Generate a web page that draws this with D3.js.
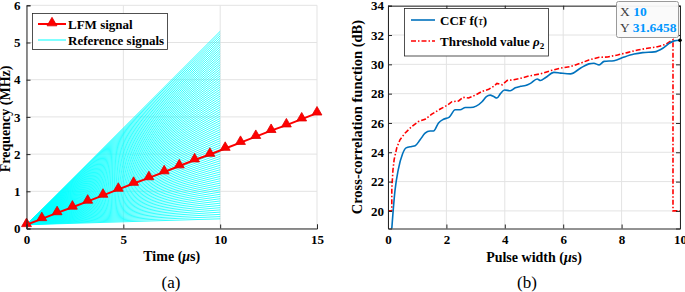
<!DOCTYPE html>
<html>
<head>
<meta charset="utf-8">
<script src="https://cdn.jsdelivr.net/npm/d3@7"></script>
<style>
  body { margin: 0; background: #fff; }
  svg { display: block; font-family: "Liberation Serif", "Times New Roman", serif; }
  .tick text { font-family: "Liberation Serif", "Times New Roman", serif; font-weight: bold; font-size: 13px; fill: #000; }
</style>
</head>
<body>
<svg id="chart" width="685" height="292"></svg>
<script>
// (a) LFM signal vs. reference signals
const lfmTime = [0, 0.79, 1.58, 2.37, 3.16, 3.95, 4.74, 5.53, 6.32, 7.11, 7.89, 8.68, 9.47, 10.26, 11.05, 11.84, 12.63, 13.42, 14.21, 15];
const lfmFreq = [0.10, 0.26, 0.42, 0.57, 0.73, 0.89, 1.05, 1.21, 1.36, 1.52, 1.68, 1.84, 1.99, 2.15, 2.31, 2.47, 2.63, 2.78, 2.94, 3.10];
const refStart = [0, 0.1];   // all reference chirps start here
const refEndTime = 10;
const refEndFreq = [
  0.26, 0.32, 0.38, 0.44, 0.50, 0.56, 0.62, 0.68, 0.74, 0.80,
  0.86, 0.92, 0.98, 1.04, 1.10, 1.16, 1.22, 1.28, 1.34, 1.40,
  1.46, 1.52, 1.58, 1.64, 1.70, 1.76, 1.82, 1.88, 1.94, 2.00,
  2.06, 2.12, 2.18, 2.24, 2.30, 2.36, 2.42, 2.48, 2.54, 2.60,
  2.66, 2.72, 2.78, 2.84, 2.90, 2.96, 3.02, 3.08, 3.14, 3.20,
  3.26, 3.32, 3.38, 3.44, 3.50, 3.56, 3.62, 3.68, 3.74, 3.80,
  3.86, 3.92, 3.98, 4.04, 4.10, 4.16, 4.22, 4.28, 4.34, 4.40,
  4.46, 4.52, 4.58, 4.64, 4.70, 4.76, 4.82, 4.88, 4.94, 5.00,
  5.06, 5.12, 5.18, 5.24, 5.30
];
const aTicksX = [0, 5, 10, 15];
const aTicksY = [0, 1, 2, 3, 4, 5, 6];

// (b) cross-correlation vs pulse width
const ccfX = [0.13, 0.24, 0.35, 0.5, 0.62, 0.81, 0.93, 1.1, 1.27, 1.44, 1.56, 1.73, 1.9, 2.1, 2.3, 2.47, 2.65, 2.82, 3.02, 3.22, 3.37, 3.5, 3.62, 3.73, 3.85, 3.99, 4.19, 4.36, 4.54, 4.71, 4.88, 5.11, 5.22, 5.4, 5.68, 5.91, 6.25, 6.6, 6.88, 7.05, 7.23, 7.4, 7.74, 8.09, 8.43, 8.72, 9.12, 9.41, 9.63, 9.8, 10];
const ccfY = [18.8, 21.4, 22.8, 23.9, 24.3, 24.4, 24.45, 24.85, 25.3, 25.45, 25.45, 26.0, 26.25, 26.4, 26.9, 26.9, 27.05, 27.05, 27.15, 27.45, 27.8, 27.9, 27.8, 27.7, 28.0, 28.25, 28.2, 28.4, 28.5, 28.55, 28.7, 29.0, 28.9, 29.1, 29.45, 29.4, 29.35, 29.75, 30.03, 30.07, 29.96, 30.2, 30.25, 30.5, 30.7, 30.8, 30.85, 31.1, 31.43, 31.6, 31.6458];
const thrX = [0, 0.13, 0.13, 0.17, 0.21, 0.3, 0.41, 0.58, 0.81, 1.04, 1.27, 1.5, 1.79, 2.02, 2.19, 2.42, 2.57, 2.76, 2.99, 3.22, 3.45, 3.62, 3.73, 3.91, 4.08, 4.31, 4.54, 4.82, 5.22, 5.57, 5.91, 6.25, 6.6, 6.88, 7.23, 7.52, 7.86, 8.2, 8.55, 8.89, 9.23, 9.52, 9.69, 9.76, 9.76, 10];
const thrY = [20, 20, 21.5, 22.8, 23.5, 24.3, 24.85, 25.3, 25.75, 26.1, 26.25, 26.6, 26.95, 27.2, 27.45, 27.5, 27.75, 27.7, 27.9, 28.15, 28.3, 28.5, 28.7, 28.6, 28.9, 28.95, 29.05, 29.2, 29.35, 29.57, 29.74, 29.85, 30.08, 30.3, 30.48, 30.5, 30.64, 30.8, 30.98, 31.1, 31.2, 31.37, 31.6, 31.68, 20, 20];
const bTicksX = [0, 2, 4, 6, 8, 10];
const bTicksY = [20, 22, 24, 26, 28, 30, 32, 34];
const tipX = 10, tipY = 31.6458;

const svg = d3.select("#chart");
const gridColor = "#e3e3e3";
const axisColor = "#262626";
const serif = "Liberation Serif, Times New Roman, serif";

function styleAxis(a) {
  a.attr("font-family", serif);
  a.select(".domain").attr("stroke", axisColor);
  a.selectAll(".tick line").attr("stroke", axisColor);
}

// ---------- panel (a) ----------
const xa = d3.scaleLinear().domain([0, 15]).range([26.5, 317]);
const ya = d3.scaleLinear().domain([0, 6]).range([228.5, 5.3]);
const ga = svg.append("g");

ga.selectAll(".gx").data(aTicksX).enter().append("line")
  .attr("x1", d => xa(d)).attr("x2", d => xa(d))
  .attr("y1", ya(0)).attr("y2", ya(6))
  .attr("stroke", gridColor);
ga.selectAll(".gy").data(aTicksY).enter().append("line")
  .attr("x1", xa(0)).attr("x2", xa(15))
  .attr("y1", d => ya(d)).attr("y2", d => ya(d))
  .attr("stroke", gridColor);

// reference chirps
ga.selectAll(".ref").data(refEndFreq).enter().append("line")
  .attr("x1", xa(refStart[0])).attr("y1", ya(refStart[1]))
  .attr("x2", xa(refEndTime)).attr("y2", d => ya(d))
  .attr("stroke", "#00ffff").attr("stroke-width", 0.8);

// LFM signal
const lfm = lfmTime.map((t, i) => [t, lfmFreq[i]]);
ga.append("path")
  .datum(lfm)
  .attr("d", d3.line().x(d => xa(d[0])).y(d => ya(d[1])))
  .attr("fill", "none").attr("stroke", "#ff0000").attr("stroke-width", 2);
const tri = d3.symbol().type(d3.symbolTriangle).size(42);
ga.selectAll(".mk").data(lfm).enter().append("path")
  .attr("d", tri)
  .attr("transform", d => `translate(${xa(d[0])},${ya(d[1]) - 1})`)
  .attr("fill", "#ff0000").attr("stroke", "#e00000").attr("stroke-width", 0.8);

// axes
const axA = ga.append("g").attr("transform", `translate(0,${ya(0)})`)
  .call(d3.axisBottom(xa).tickValues(aTicksX).tickFormat(d3.format("d")).tickSize(-4).tickPadding(6));
const ayA = ga.append("g").attr("transform", `translate(${xa(0)},0)`)
  .call(d3.axisLeft(ya).tickValues(aTicksY).tickFormat(d3.format("d")).tickSize(-4).tickPadding(6));
styleAxis(axA);
styleAxis(ayA);

ga.append("text")
  .attr("transform", `translate(10,${(ya(0) + ya(6)) / 2 + 2}) rotate(-90)`)
  .attr("text-anchor", "middle").attr("font-weight", "bold").attr("font-size", 14)
  .text("Frequency (MHz)");
const tA = ga.append("text").attr("x", xa(7.5)).attr("y", 261)
  .attr("text-anchor", "middle").attr("font-weight", "bold").attr("font-size", 14);
tA.append("tspan").text("Time (");
tA.append("tspan").attr("font-style", "italic").text("μ");
tA.append("tspan").text("s)");
ga.append("text").attr("x", 171).attr("y", 288).attr("text-anchor", "middle")
  .attr("font-size", 17).text("(a)");

// legend (a)
const la = ga.append("g");
la.append("rect").attr("x", 32.5).attr("y", 13.5).attr("width", 135).attr("height", 36)
  .attr("fill", "#fff").attr("stroke", axisColor).attr("stroke-width", 0.8);
la.append("line").attr("x1", 38).attr("x2", 66).attr("y1", 24).attr("y2", 24)
  .attr("stroke", "#ff0000").attr("stroke-width", 2);
la.append("path").attr("d", tri).attr("transform", "translate(52,23)")
  .attr("fill", "#ff0000").attr("stroke", "#e00000").attr("stroke-width", 0.8);
la.append("line").attr("x1", 38).attr("x2", 66).attr("y1", 40).attr("y2", 40)
  .attr("stroke", "#00ffff").attr("stroke-width", 1);
la.append("text").attr("x", 68).attr("y", 28.5).attr("font-weight", "bold").attr("font-size", 13).text("LFM signal");
la.append("text").attr("x", 68).attr("y", 44.5).attr("font-weight", "bold").attr("font-size", 13).text("Reference signals");

// ---------- panel (b) ----------
const xb = d3.scaleLinear().domain([0, 10]).range([388, 680]);
const yb = d3.scaleLinear().domain([18.8, 34]).range([228.5, 5.7]);
const gb = svg.append("g");

gb.selectAll(".gx").data(bTicksX).enter().append("line")
  .attr("x1", d => xb(d)).attr("x2", d => xb(d))
  .attr("y1", yb(18.8)).attr("y2", yb(34))
  .attr("stroke", gridColor);
gb.selectAll(".gy").data(bTicksY).enter().append("line")
  .attr("x1", xb(0)).attr("x2", xb(10))
  .attr("y1", d => yb(d)).attr("y2", d => yb(d))
  .attr("stroke", gridColor);

gb.append("path")
  .datum(thrX.map((x, i) => [x, thrY[i]]))
  .attr("d", d3.line().x(d => xb(d[0])).y(d => yb(d[1])))
  .attr("fill", "none").attr("stroke", "#ff0000").attr("stroke-width", 1.6)
  .attr("stroke-dasharray", "5,2,1.5,2");
gb.append("path")
  .datum(ccfX.map((x, i) => [x, ccfY[i]]))
  .attr("d", d3.line().curve(d3.curveMonotoneX).x(d => xb(d[0])).y(d => yb(d[1])))
  .attr("fill", "none").attr("stroke", "#0072bd").attr("stroke-width", 1.6);

const axB = gb.append("g").attr("transform", `translate(0,${yb(18.8)})`)
  .call(d3.axisBottom(xb).tickValues(bTicksX).tickSize(-4).tickPadding(6));
const ayB = gb.append("g").attr("transform", `translate(${xb(0)},0)`)
  .call(d3.axisLeft(yb).tickValues(bTicksY).tickSize(-4).tickPadding(4));
const ayB2 = gb.append("g").attr("transform", `translate(${xb(10)},0)`)
  .call(d3.axisRight(yb).tickValues(bTicksY).tickSize(-4).tickFormat(""));
const axB2 = gb.append("g").attr("transform", `translate(0,${yb(34)})`)
  .call(d3.axisTop(xb).tickValues(bTicksX).tickSize(-4).tickFormat(""));
[axB, ayB, ayB2, axB2].forEach(styleAxis);

gb.append("text")
  .attr("transform", `translate(362,${(yb(18.8) + yb(34)) / 2}) rotate(-90)`)
  .attr("text-anchor", "middle").attr("font-weight", "bold").attr("font-size", 14.5)
  .text("Cross-correlation function (dB)");
const tB = gb.append("text").attr("x", xb(5)).attr("y", 262)
  .attr("text-anchor", "middle").attr("font-weight", "bold").attr("font-size", 14);
tB.append("tspan").text("Pulse width (");
tB.append("tspan").attr("font-style", "italic").text("μ");
tB.append("tspan").text("s)");
gb.append("text").attr("x", 527).attr("y", 288).attr("text-anchor", "middle")
  .attr("font-size", 17).text("(b)");

// legend (b)
const lb = gb.append("g");
lb.append("rect").attr("x", 404.5).attr("y", 8.5).attr("width", 144).attr("height", 47.5)
  .attr("fill", "#fff").attr("stroke", axisColor).attr("stroke-width", 0.8);
lb.append("line").attr("x1", 411).attr("x2", 435).attr("y1", 20).attr("y2", 20)
  .attr("stroke", "#0072bd").attr("stroke-width", 1.6);
lb.append("line").attr("x1", 411).attr("x2", 435).attr("y1", 41).attr("y2", 41)
  .attr("stroke", "#ff0000").attr("stroke-width", 1.6).attr("stroke-dasharray", "5,2,1.5,2");
const l1 = lb.append("text").attr("x", 440).attr("y", 24.5).attr("font-weight", "bold").attr("font-size", 13);
l1.append("tspan").text("CCF f(");
l1.append("tspan").attr("font-style", "italic").attr("font-weight", "normal").text("τ");
l1.append("tspan").text(")");
const l2 = lb.append("text").attr("x", 440).attr("y", 45.5).attr("font-weight", "bold").attr("font-size", 13);
l2.append("tspan").text("Threshold value ");
l2.append("tspan").attr("font-style", "italic").text("ρ");
l2.append("tspan").attr("font-size", 9).attr("dy", 3).text("2");

// datatip
const tip = gb.append("g");
tip.append("rect").attr("x", 616.5).attr("y", 1.5).attr("width", 62).attr("height", 36).attr("rx", 2)
  .attr("fill", "#fafafa").attr("fill-opacity", 0.95).attr("stroke", "#9a9a9a");
const t1 = tip.append("text").attr("x", 620).attr("y", 16).attr("font-size", 13.5);
t1.append("tspan").attr("fill", "#404040").text("X ");
t1.append("tspan").attr("fill", "#0096ff").attr("font-weight", "bold").text(tipX);
const t2 = tip.append("text").attr("x", 620).attr("y", 32).attr("font-size", 13.5);
t2.append("tspan").attr("fill", "#404040").text("Y ");
t2.append("tspan").attr("fill", "#0096ff").attr("font-weight", "bold").text(tipY);
tip.append("circle").attr("cx", xb(tipX)).attr("cy", yb(tipY)).attr("r", 1.8).attr("fill", "#000");
</script>
</body>
</html>
